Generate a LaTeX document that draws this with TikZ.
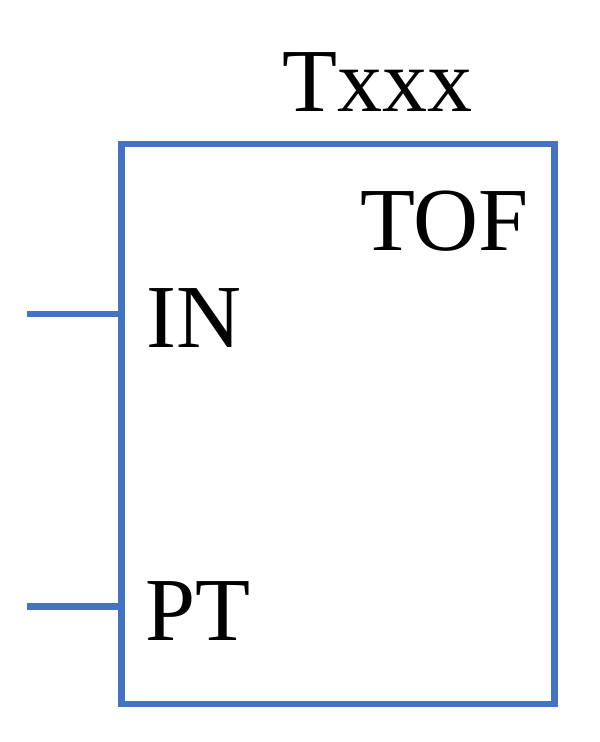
\documentclass[tikz,border=0pt]{standalone}
\usepackage{fontspec}
\setmainfont{Liberation Serif}
\definecolor{fbblue}{RGB}{68,114,196}
\begin{document}
\begin{tikzpicture}[x=1pt,y=-1pt,
  fbbox/.style={draw=fbblue,line width=6.5pt,minimum width=433.2pt,minimum height=560pt,inner sep=0pt},
  wire/.style={draw=fbblue,line width=6.5pt},
  lbl/.style={inner sep=0pt,font=\fontsize{90}{90}\selectfont}]
\useasboundingbox (0,0) rectangle (600,742);
\node[fbbox] (box) at (338.1,424) {};
\node[lbl,anchor=base] (name) at (377.5,111) {Txxx};
\node[lbl,anchor=base east] (type) at (529,250) {TOF};
\node[lbl,anchor=base west] (in) at (146,347) {IN};
\node[lbl,anchor=base west] (pt) at (145.5,640) {PT};
\coordinate (inA) at (27,314);
\coordinate (ptA) at (27,606.5);
\draw[wire] (inA) -- (inA -| box.west);
\draw[wire] (ptA) -- (ptA -| box.west);
\end{tikzpicture}
\end{document}
